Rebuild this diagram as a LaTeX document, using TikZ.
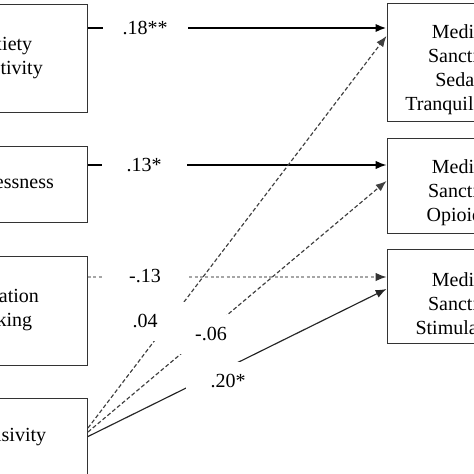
\documentclass[tikz,border=0pt]{standalone}
\usepackage{fontspec}
\setmainfont{Liberation Serif}
\usetikzlibrary{arrows.meta,positioning}
\newcommand{\outstrut}{\rule{0pt}{17pt}}

\begin{document}
\begin{tikzpicture}[
x=0.6pt,y=-0.6pt,
font=\fontsize{12}{14.4}\selectfont,
pred/.style={draw=black!80,line width=0.6pt,align=center,minimum width=105pt,inner sep=0pt},
outc/.style={draw=black!80,line width=0.6pt,align=center,minimum width=102.6pt,inner sep=0pt},
est/.style={fill=white,minimum width=51pt,minimum height=23.4pt,inner sep=0pt},
arr/.style={-{Latex[length=6.5pt,width=5pt]},line width=0.7pt},
dsh/.style={arr,draw=black!75,dash pattern=on 2.4pt off 1.4pt},
ltdsh/.style={arr,draw=black!35,dash pattern=on 1.8pt off 1.4pt,-{Latex[length=6.5pt,width=5pt,color=black!80]}}
]
\useasboundingbox (0,0) rectangle (474,474);
\clip (0,0) rectangle (474,474);
% predictors
\node[pred,minimum height=64.8pt] (anx) at (0,58) {Anxiety\\Sensitivity};
\node[pred,minimum height=45.6pt,below=19.8pt of anx] (hop) {Hopelessness};
\node[pred,minimum height=65.4pt,below=19.8pt of hop] (sen) {Sensation\\Seeking};
\node[pred,minimum height=46.2pt,below=19.2pt of sen] (imp) {Impulsivity};
% outcomes
\node[outc,minimum height=70.8pt] (sed) at (472.5,62) {\outstrut Medically\\Sanctioned\\Sedative/\\Tranquilizer Use};
\node[outc,minimum height=57pt,below=9.6pt of sed] (opi) {\outstrut Medically\\Sanctioned\\Opioid Use};
\node[outc,minimum height=56.4pt,below=9pt of opi] (sti) {\outstrut Medically\\Sanctioned\\Stimulant Use};
% paths
\draw[arr,line width=1.3pt] (anx.east |- 0,28) -- (sed.west |- 0,28);
\draw[arr,line width=0.8pt] (hop.east |- 0,165) -- (opi.west |- 0,165);
\draw[ltdsh] (sen.east |- 0,277) -- (sti.west |- 0,277);
\draw[dsh] ([yshift=5.1pt]imp.east) -- ([yshift=15.6pt]sed.west);
\draw[dsh] ([yshift=2.7pt]imp.east) -- ([yshift=2.7pt]opi.west);
\draw[arr,draw=black!85] (imp.east) -- ([yshift=4.2pt]sti.west);
% estimates
\node[est] (e1) at (145,28) {.18**};
\node[est] (e2) at (144,165) {.13*};
\node[est] (e3) at (145,276) {-.13};
\node[est] (e4) at (145,321) {.04};
\node[est] (e5) at (211,334) {-.06};
\node[est] (e6) at (228,381) {.20*};
\end{tikzpicture}
\end{document}
